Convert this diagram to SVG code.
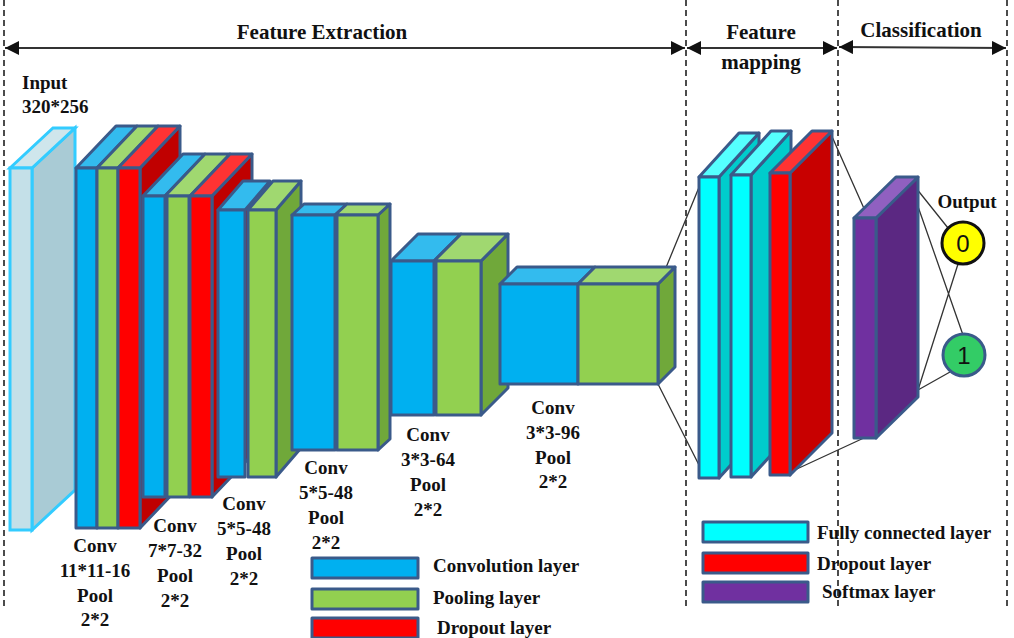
<svg xmlns="http://www.w3.org/2000/svg" width="1014" height="638" viewBox="0 0 1014 638">
<defs>
<style>
.t{font-family:"Liberation Serif",serif;font-weight:bold;font-size:17px;fill:#111}
.h{font-size:21px}
.l{font-size:19px}
.c{text-anchor:middle}
.e{stroke:#3A5A8A;stroke-width:3;stroke-linejoin:round}
.d{stroke:#111;stroke-width:1.5;stroke-dasharray:6,4;fill:none}
.ln{stroke:#333;stroke-width:1.3;fill:none}
</style>
<marker id="a" viewBox="0 0 10 10" refX="10" refY="5" markerWidth="7" markerHeight="7" orient="auto-start-reverse"><path d="M0,0L10,5L0,10z" fill="#111"/></marker>
</defs>
<rect width="1014" height="638" fill="#fff"/>
<g id="frame">
<line class="d" x1="4" y1="0" x2="4" y2="610"/>
<line class="d" x1="686" y1="0" x2="686" y2="610"/>
<line class="d" x1="838" y1="0" x2="838" y2="610"/>
<line class="d" x1="1007" y1="0" x2="1007" y2="610"/>
<line x1="5" y1="48" x2="685" y2="48" stroke="#333" stroke-width="2" marker-start="url(#a)" marker-end="url(#a)"/>
<line x1="687" y1="48" x2="837" y2="48" stroke="#333" stroke-width="2" marker-start="url(#a)" marker-end="url(#a)"/>
<line x1="839" y1="47" x2="1006" y2="48" stroke="#333" stroke-width="2" marker-start="url(#a)" marker-end="url(#a)"/>
<text class="t c h" x="322" y="39">Feature Extraction</text>
<text class="t c h" x="761" y="39">Feature</text>
<text class="t c h" x="761" y="69">mapping</text>
<text class="t c h" x="921" y="37">Classification</text>
</g>
<g id="connectors">
<path class="ln" d="M665,270L702,180M658,384L700,467M830,132L870,222M786,474L866,437M908,178L948,228M908,178L963,335M918,390L958,264M918,390L950,372"/>
</g>
<g id="input">
<text class="t l" x="22" y="89">Input</text>
<text class="t l" x="22" y="113">320*256</text>
<path d="M32,168L75,128V490L32,530z" fill="#A9CBD5" stroke="#33CCFF" stroke-width="3"/>
<path d="M10,168L53,128H75L32,168z" fill="#CFE6EC" stroke="#33CCFF" stroke-width="3"/>
<rect x="10" y="168" width="22" height="362" fill="#C4E0E8" stroke="#33CCFF" stroke-width="3"/>
</g>
<g id="block1">
<path class="e" d="M140,168L180,126V486L140,528z" fill="#C00000"/>
<path class="e" d="M76,168L116,126H137L97,168z" fill="#33BBEE"/>
<path class="e" d="M97,168L137,126H158L118,168z" fill="#A0D870"/>
<path class="e" d="M118,168L158,126H180L140,168z" fill="#FF3333"/>
<rect class="e" x="76" y="168" width="21" height="360" fill="#00B0F0"/>
<rect class="e" x="97" y="168" width="21" height="360" fill="#92D050"/>
<rect class="e" x="118" y="168" width="22" height="360" fill="#FF0000"/>
<text class="t c l" x="95" y="552">Conv</text><text class="t c l" x="95" y="577">11*11-16</text><text class="t c l" x="95" y="602">Pool</text><text class="t c l" x="95" y="626">2*2</text>
</g>
<g id="block2">
<path class="e" d="M212,196L252,154V455L212,497z" fill="#C00000"/>
<path class="e" d="M143,196L183,154H205L165,196z" fill="#33BBEE"/>
<path class="e" d="M165,196L205,154H230L190,196z" fill="#A0D870"/>
<path class="e" d="M190,196L230,154H252L212,196z" fill="#FF3333"/>
<rect class="e" x="143" y="196" width="22" height="301" fill="#00B0F0"/>
<rect class="e" x="167" y="196" width="22" height="301" fill="#92D050"/>
<rect class="e" x="190" y="196" width="22" height="301" fill="#FF0000"/>
<text class="t c l" x="175" y="532">Conv</text><text class="t c l" x="175" y="557">7*7-32</text><text class="t c l" x="175" y="582">Pool</text><text class="t c l" x="175" y="607">2*2</text>
</g>
<g id="block3">
<path class="e" d="M276,210L301,181V448L276,477z" fill="#70A83A"/>
<path class="e" d="M218,210L243,181H270L245,210z" fill="#33BBEE"/>
<path class="e" d="M248,210L273,181H301L276,210z" fill="#A0D870"/>
<rect class="e" x="218" y="210" width="27" height="267" fill="#00B0F0"/>
<rect class="e" x="248" y="210" width="28" height="267" fill="#92D050"/>
<text class="t c l" x="244" y="510">Conv</text><text class="t c l" x="244" y="535">5*5-48</text><text class="t c l" x="244" y="560">Pool</text><text class="t c l" x="244" y="585">2*2</text>
</g>
<g id="block4">
<path class="e" d="M378,215L390,204V439L378,450z" fill="#70A83A"/>
<path class="e" d="M292,215L304,204H347L335,215z" fill="#33BBEE"/>
<path class="e" d="M335,215L347,204H390L378,215z" fill="#A0D870"/>
<rect class="e" x="292" y="215" width="43" height="235" fill="#00B0F0"/>
<rect class="e" x="337" y="215" width="41" height="235" fill="#92D050"/>
<text class="t c l" x="326" y="474">Conv</text><text class="t c l" x="326" y="499">5*5-48</text><text class="t c l" x="326" y="524">Pool</text><text class="t c l" x="326" y="549">2*2</text>
</g>
<g id="block5">
<path class="e" d="M481,261L508,234V388L481,415z" fill="#70A83A"/>
<path class="e" d="M391,261L418,234H461L434,261z" fill="#33BBEE"/>
<path class="e" d="M434,261L461,234H508L481,261z" fill="#A0D870"/>
<rect class="e" x="391" y="261" width="43" height="154" fill="#00B0F0"/>
<rect class="e" x="436" y="261" width="45" height="154" fill="#92D050"/>
<text class="t c l" x="428" y="441">Conv</text><text class="t c l" x="428" y="466">3*3-64</text><text class="t c l" x="428" y="491">Pool</text><text class="t c l" x="428" y="516">2*2</text>
</g>
<g id="block6">
<path class="e" d="M658,284L675,267V367L658,384z" fill="#70A83A"/>
<path class="e" d="M500,284L517,267H595L578,284z" fill="#33BBEE"/>
<path class="e" d="M578,284L595,267H675L658,284z" fill="#A0D870"/>
<rect class="e" x="500" y="284" width="78" height="100" fill="#00B0F0"/>
<rect class="e" x="578" y="284" width="80" height="100" fill="#92D050"/>
<text class="t c l" x="553" y="414">Conv</text><text class="t c l" x="553" y="439">3*3-96</text><text class="t c l" x="553" y="464">Pool</text><text class="t c l" x="553" y="488">2*2</text>
</g>
<g id="fc1">
<path class="e" d="M719,177L759,133V434L719,478z" fill="#00CCCC"/>
<path class="e" d="M699,177L739,133H759L719,177z" fill="#55FFFF"/>
<rect class="e" x="699" y="177" width="20" height="301" fill="#00FFFF"/>
</g>
<g id="fc2">
<path class="e" d="M751,175L791,131V433L751,477z" fill="#00CCCC"/>
<path class="e" d="M731,175L771,131H791L751,175z" fill="#55FFFF"/>
<rect class="e" x="731" y="175" width="20" height="302" fill="#00FFFF"/>
</g>
<g id="dropout">
<path class="e" d="M790,173L832,131V433L790,475z" fill="#C80000"/>
<path class="e" d="M770,173L812,131H832L790,173z" fill="#FF3333"/>
<rect class="e" x="770" y="173" width="20" height="302" fill="#FF0000"/>
</g>
<g id="softmax">
<path class="e" d="M876,218L918,177V397L876,438z" fill="#5B2882"/>
<path class="e" d="M854,218L896,177H918L876,218z" fill="#9060C0"/>
<rect class="e" x="854" y="218" width="22" height="220" fill="#7030A0"/>
</g>
<g id="output">
<text class="t c l" x="967" y="208">Output</text>
<circle cx="963" cy="243" r="21" fill="#FFFF00" stroke="#111" stroke-width="3"/>
<text x="963" y="252" text-anchor="middle" font-family="Liberation Sans,sans-serif" font-size="24" fill="#111">0</text>
<circle cx="964" cy="355" r="21" fill="#33CC66" stroke="#3A5A8A" stroke-width="3"/>
<text x="964" y="364" text-anchor="middle" font-family="Liberation Sans,sans-serif" font-size="24" fill="#111">1</text>
</g>
<g id="legend">
<rect class="e" x="312" y="558" width="106" height="20" fill="#00B0F0" stroke-width="2"/>
<rect class="e" x="312" y="589" width="106" height="20" fill="#92D050" stroke-width="2"/>
<rect class="e" x="312" y="618" width="106" height="20" fill="#FF0000" stroke-width="2"/>
<text class="t l" x="433" y="572">Convolution layer</text>
<text class="t l" x="433" y="604">Pooling layer</text>
<text class="t l" x="437" y="634">Dropout layer</text>
<rect class="e" x="703" y="522" width="105" height="20" fill="#00FFFF" stroke-width="2"/>
<rect class="e" x="703" y="553" width="105" height="20" fill="#FF0000" stroke-width="2"/>
<rect class="e" x="703" y="582" width="105" height="20" fill="#7030A0" stroke-width="2"/>
<text class="t l" x="817" y="539">Fully connected layer</text>
<text class="t l" x="817" y="570">Dropout layer</text>
<text class="t l" x="822" y="598">Softmax layer</text>
</g>
</svg>
